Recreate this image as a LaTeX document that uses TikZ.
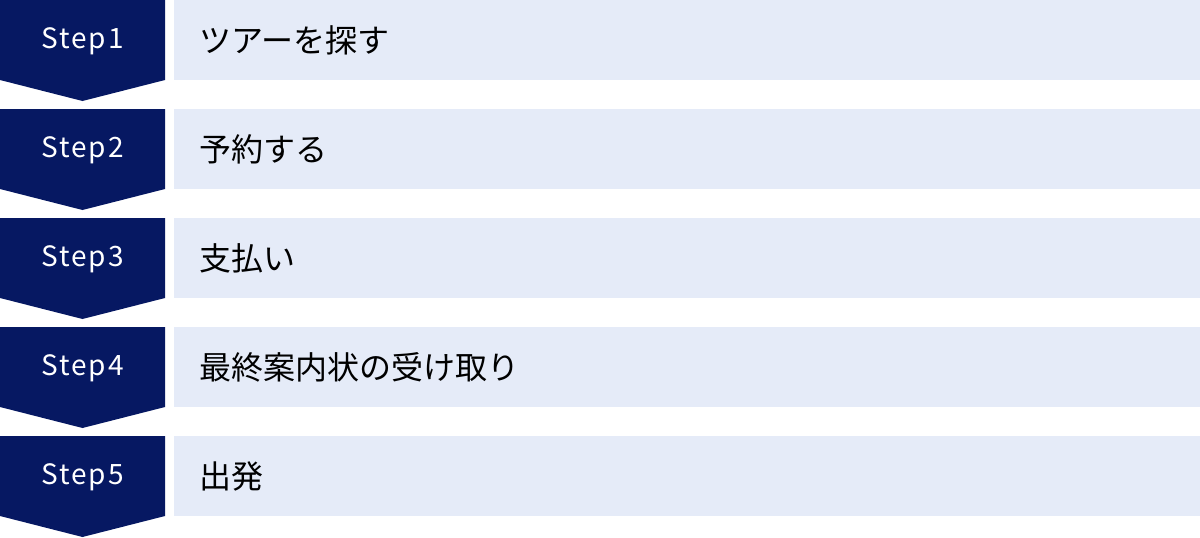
\documentclass[tikz,border=0pt]{standalone}
\usepackage{fontspec}
\setmainfont{Noto Sans CJK JP}
\definecolor{navy}{HTML}{061862}
\definecolor{lightbox}{HTML}{E5EBF8}
\begin{document}
\begin{tikzpicture}[x=1pt,y=-1pt,
  stepshape/.style={fill=navy,draw=none},
  barbox/.style={fill=lightbox,draw=none},
  steplabel/.style={text=white,font=\fontsize{28}{32}\selectfont,anchor=center,inner sep=0pt},
  barlabel/.style={text=black,font=\fontsize{32}{36}\selectfont,anchor=west,inner sep=0pt}]
\useasboundingbox (0,0) rectangle (1200,538);
\foreach \i/\t in {0/ツアーを探す,1/予約する,2/支払い,3/最終案内状の受け取り,4/出発}{
  \pgfmathsetmacro{\yy}{\i*109}
  \fill[stepshape] (0,\yy) -- (165,\yy) -- (165,\yy+80) -- (82.5,\yy+101) -- (0,\yy+80) -- cycle;
  \fill[barbox] (174,\yy) rectangle (1200,\yy+80);
  \pgfmathtruncatemacro{\n}{\i+1}
  \node[steplabel] (s\n) at (82.5,\yy+41) {\addfontfeatures{LetterSpace=7}Step\n};
  \node[barlabel] (b\n) at (199,\yy+40) {\t};
}
\end{tikzpicture}
\end{document}
